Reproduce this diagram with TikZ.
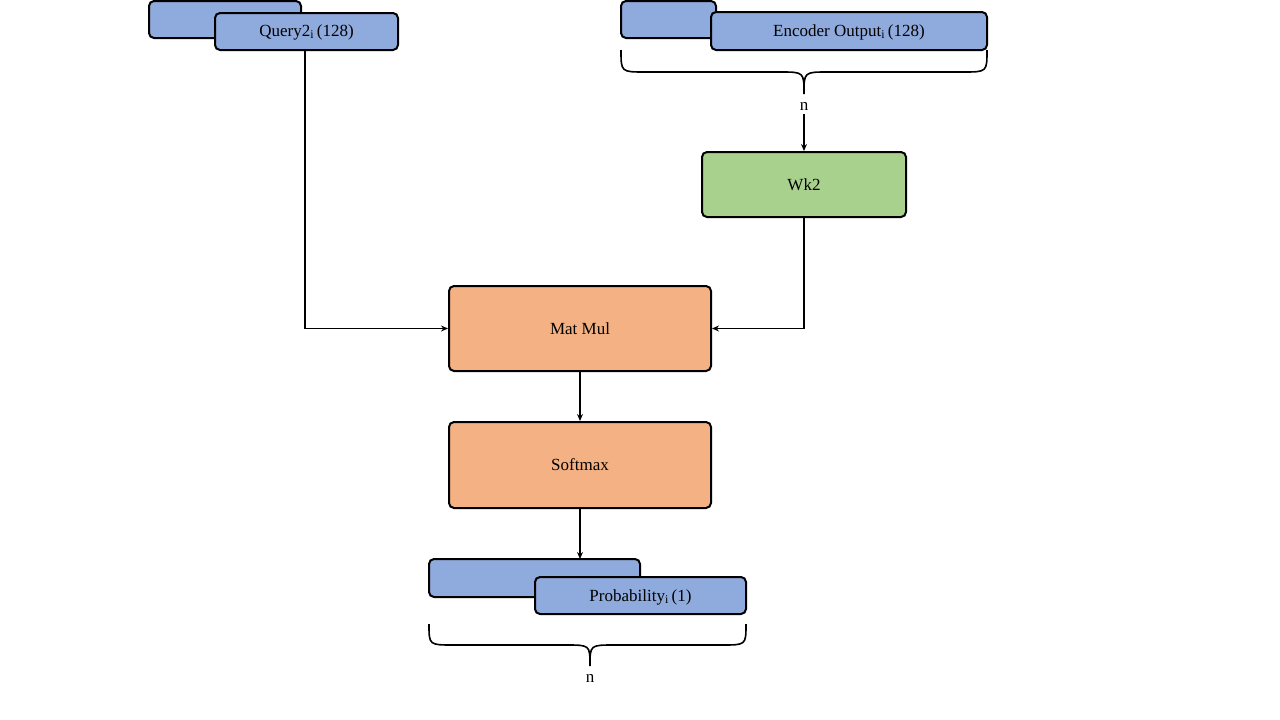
\documentclass[tikz,border=0pt]{standalone}
\usepackage{fontspec}
\setmainfont{Liberation Serif}
\usetikzlibrary{arrows.meta}
\definecolor{blu}{HTML}{8FAADC}
\definecolor{grn}{HTML}{A9D18E}
\definecolor{org}{HTML}{F4B183}
\begin{document}
\begin{tikzpicture}[x=1pt,y=-1pt,
  box/.style={draw=black,line width=2pt,rounded corners=5pt},
  lbl/.style={font=\fontsize{17}{20}\selectfont,inner sep=0pt},
  con/.style={line width=1.6pt,-{Stealth[length=7pt,width=6pt]}},
  br/.style={line width=1.6pt}]
\useasboundingbox (0,0) rectangle (1280,720);
% Query
\draw[box,fill=blu] (149,1) rectangle (301,38);
\draw[box,fill=blu] (215,13) rectangle (398,50);
\node[lbl] (q) at (306.5,32) {Query2\textsubscript{i}\,(128)};
% Encoder
\draw[box,fill=blu] (621,1) rectangle (716,38);
\draw[box,fill=blu] (711,12) rectangle (987,50);
\node[lbl] (e) at (849,32) {Encoder Output\textsubscript{i}\,(128)};
\draw[br] (621,50) .. controls (621,72) .. (645,72) -- (780,72) .. controls (804,72) .. (804,94)
  .. controls (804,72) .. (828,72) -- (963,72) .. controls (987,72) .. (987,50);
\node[lbl] (n1) at (804,106) {n};
% Wk2
\node[box,fill=grn,minimum width=204pt,minimum height=65pt,lbl] (wk) at (804,184.5) {Wk2};
\node[box,fill=org,minimum width=262pt,minimum height=85pt,lbl] (mm) at (580,328.5) {Mat Mul};
\node[box,fill=org,minimum width=262pt,minimum height=86pt,lbl] (sm) at (580,465) {Softmax};
% Probability
\draw[box,fill=blu] (429,559) rectangle (640,597);
\draw[box,fill=blu] (535,577) rectangle (746,614);
\node[lbl] (p) at (640.5,597) {Probability\textsubscript{i}\,(1)};
\draw[br] (429,624) .. controls (429,645) .. (453,645) -- (566,645) .. controls (590,645) .. (590,666)
  .. controls (590,645) .. (614,645) -- (722,645) .. controls (746,645) .. (746,624);
\node[lbl] (n2) at (590,678) {n};
\coordinate (qb) at (305,50);
\coordinate (pt) at (580,559);
% connectors
\draw[con] (n1.south) ++(0,4) -- (wk.north);
\draw[con] (qb) |- (mm.west);
\draw[con] (wk.south) |- (mm.east);
\draw[con] (mm.south) -- (sm.north);
\draw[con] (sm.south) -- (pt);
\end{tikzpicture}
\end{document}
